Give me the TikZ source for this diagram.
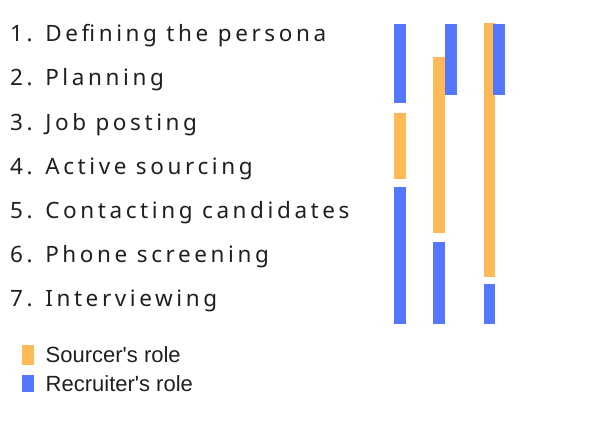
\documentclass[tikz,border=0pt]{standalone}
\usepackage{fontspec}
\setmainfont{Liberation Sans}
\newfontfamily\stepfont[LetterSpace=16]{Noto Sans}
\definecolor{sourcer}{HTML}{FFB957}
\definecolor{recruiter}{HTML}{5577FF}
\begin{document}
\begin{tikzpicture}[x=1pt,y=-1pt,
  steptext/.style={anchor=base west,inner sep=0pt,font=\stepfont\fontsize{22.5}{26}\selectfont,text=black!88},
  legtext/.style={anchor=base west,inner sep=0pt,font=\fontsize{22}{26}\selectfont,text=black!88},
  sbar/.style={fill=sourcer,draw=none},
  rbar/.style={fill=recruiter,draw=none}]
\useasboundingbox (0,0) rectangle (595,444);
\node[steptext] (s1) at (10,42) {1. Defining the persona};
\node[steptext] (s2) at (10,86) {2. Planning};
\node[steptext] (s3) at (10,130) {3. Job posting};
\node[steptext] (s4) at (10,174) {4. Active sourcing};
\node[steptext] (s5) at (10,218) {5. Contacting candidates};
\node[steptext] (s6) at (10,262) {6. Phone screening};
\node[steptext] (s7) at (10,306) {7. Interviewing};
% column 1
\fill[rbar] (394,24) rectangle (406,103);
\fill[sbar] (394,113) rectangle (406,179);
\fill[rbar] (394,187) rectangle (406,324);
% column 2
\fill[sbar] (433,57) rectangle (445,233);
\fill[rbar] (445,24) rectangle (457,95);
\fill[rbar] (433,242) rectangle (445,324);
% column 3
\fill[sbar] (484,23) rectangle (495,277);
\fill[rbar] (493,24) rectangle (505,95);
\fill[rbar] (484,284) rectangle (495,324);
% legend
\fill[sbar] (22,345) rectangle (34,365);
\fill[rbar] (22,374.5) rectangle (34,392);
\node[legtext] (l1) at (45.5,362.5) {Sourcer\textquotesingle s role};
\node[legtext] (l2) at (45.5,391) {Recruiter\textquotesingle s role};
\end{tikzpicture}
\end{document}
